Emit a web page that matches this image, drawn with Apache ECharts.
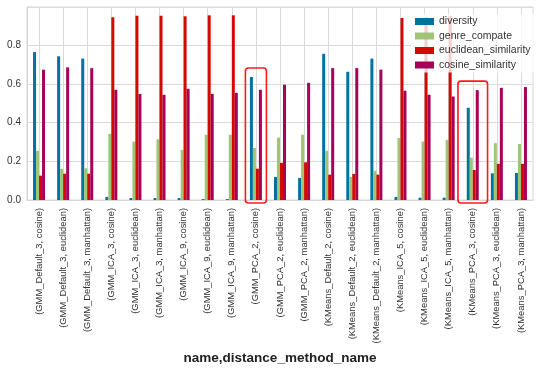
<!DOCTYPE html>
<html><head><meta charset="utf-8">
<script src="https://cdn.jsdelivr.net/npm/echarts@6/dist/echarts.min.js"></script>
<style>html,body{margin:0;padding:0;background:#fff}#c{width:542px;height:370px}</style>
</head><body><div id="c"></div>
<script>
var categories = [
 "(GMM_Default_3, cosine)","(GMM_Default_3, euclidean)","(GMM_Default_3, manhattan)",
 "(GMM_ICA_3, cosine)","(GMM_ICA_3, euclidean)","(GMM_ICA_3, manhattan)",
 "(GMM_ICA_9, cosine)","(GMM_ICA_9, euclidean)","(GMM_ICA_9, manhattan)",
 "(GMM_PCA_2, cosine)","(GMM_PCA_2, euclidean)","(GMM_PCA_2, manhattan)",
 "(KMeans_Default_2, cosine)","(KMeans_Default_2, euclidean)","(KMeans_Default_2, manhattan)",
 "(KMeans_ICA_5, cosine)","(KMeans_ICA_5, euclidean)","(KMeans_ICA_5, manhattan)",
 "(KMeans_PCA_3, cosine)","(KMeans_PCA_3, euclidean)","(KMeans_PCA_3, manhattan)"
];
var diversity = [0.765,0.743,0.731,0.016,0.010,0.010,0.010,0.005,0.005,0.636,0.119,0.114,0.756,0.663,0.731,0.016,0.012,0.012,0.477,0.138,0.140];
var genre_compate = [0.254,0.161,0.164,0.342,0.302,0.314,0.259,0.337,0.337,0.269,0.323,0.337,0.254,0.119,0.150,0.321,0.302,0.311,0.219,0.294,0.290];
var euclidean_similarity = [0.126,0.136,0.136,0.945,0.953,0.953,0.950,0.955,0.955,0.162,0.192,0.195,0.131,0.135,0.131,0.941,0.945,0.950,0.155,0.187,0.187];
var cosine_similarity = [0.674,0.686,0.682,0.570,0.548,0.544,0.575,0.549,0.554,0.570,0.596,0.606,0.682,0.682,0.674,0.565,0.544,0.535,0.568,0.580,0.584];
var seriesNames = ["diversity","genre_compate","euclidean_similarity","cosine_similarity"];
var yTicks = [0.0,0.2,0.4,0.6,0.8];
var highlighted = [9, 18];

var colors = ["#0272a2","#9fc377","#d20a03","#a50258"];
var values = [diversity, genre_compate, euclidean_similarity, cosine_similarity];
var chart = echarts.init(document.getElementById('c'), null, {renderer:'canvas'});
var font = "'Liberation Sans', Arial, sans-serif";
var series = seriesNames.map(function(n,i){
  return {name:n, type:'bar', data:values[i], barWidth:3, barGap:'0%', barCategoryGap:'50%',
    itemStyle:{color:colors[i]}, silent:true};
});
chart.setOption({
  animation:false,
  color:colors,
  grid:{left:27, right:9, top:7, bottom:170, show:true, borderColor:'#d6d6d6', borderWidth:1,
    containLabel:false, outerBoundsMode:'none'},
  legend:{data:seriesNames, orient:'vertical', left:411, top:14, itemWidth:19, itemHeight:7, itemGap:3.5,
    padding:[2,4,2,4], backgroundColor:'rgba(255,255,255,0.8)',
    textStyle:{fontFamily:font, fontSize:10.5, color:'#333'}, icon:'rect'},
  xAxis:{type:'category', data:categories,
    axisLine:{show:true, lineStyle:{color:'#d6d6d6'}}, axisTick:{show:false},
    splitLine:{show:true, alignWithLabel:true, lineStyle:{color:'#dadada', width:1}},
    axisLabel:{rotate:90, interval:0, fontFamily:font, fontSize:9.4, color:'#333', margin:8},
    name:'name,distance_method_name', nameLocation:'middle', nameGap:148,
    nameTextStyle:{fontFamily:font, fontSize:13.5, fontWeight:'bold', color:'#222'}},
  yAxis:{type:'value', min:0, max:0.998, interval:0.2,
    axisLine:{show:true, lineStyle:{color:'#d6d6d6'}}, axisTick:{show:false},
    splitLine:{show:true, lineStyle:{color:'#dadada', width:1}},
    axisLabel:{fontFamily:font, fontSize:10, color:'#333', margin:6,
      formatter:function(v){ for (var k=0;k<yTicks.length;k++){ if (Math.abs(v-yTicks[k])<1e-6) return yTicks[k].toFixed(1);} return ''; }}},
  series:series
});
// annotation boxes around highlighted categories
var boxes = highlighted.map(function(idx){
  var top = Math.max(diversity[idx], genre_compate[idx], euclidean_similarity[idx], cosine_similarity[idx]);
  var pTop = chart.convertToPixel({gridIndex:0}, [idx, top]);
  var pBot = chart.convertToPixel({gridIndex:0}, [idx, 0]);
  var half = idx === 9 ? 10.5 : 14.8;
  return {type:'rect', z:100, silent:true,
    shape:{x:pTop[0]-half, y:pTop[1]-9, width:half*2, height:(pBot[1]+3)-(pTop[1]-9), r:3},
    style:{fill:'none', stroke:'#ff1a1a', lineWidth:1.6}};
});
chart.setOption({graphic:boxes});
</script></body></html>
